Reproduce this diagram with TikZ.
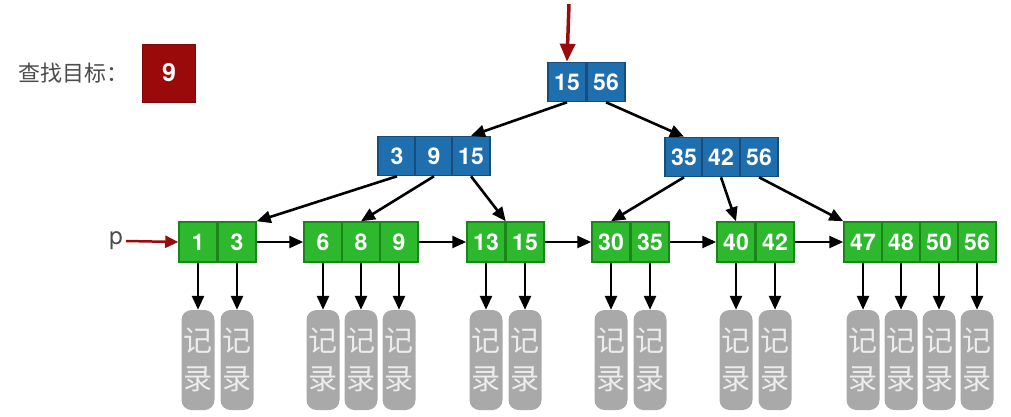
\documentclass[tikz,border=0pt]{standalone}
\usepackage{fontspec}
\setmainfont{TeX Gyre Heros}
\newfontfamily\cjk{Noto Sans CJK SC}
\usetikzlibrary{arrows.meta}
\definecolor{bfill}{HTML}{1F6FAE}\definecolor{bdraw}{HTML}{174C7C}
\definecolor{gfill}{HTML}{2DB82D}\definecolor{gdraw}{HTML}{1A861A}
\definecolor{dred}{HTML}{9B0A0A}\definecolor{rec}{HTML}{A9A9A9}
\begin{document}
\begin{tikzpicture}[x=1pt,y=-1pt,
  cell/.style={draw,line width=1.5pt,minimum width=38pt,minimum height=39pt,inner sep=0pt,text=white,font=\fontsize{23}{23}\selectfont\bfseries},
  bc/.style={cell,fill=bfill,draw=bdraw},
  gc/.style={cell,fill=gfill,draw=gdraw,minimum height=40pt},
  rec/.style={fill=rec,rounded corners=10pt,minimum width=33pt,minimum height=100pt,inner sep=0pt,align=center,text=white!78!rec,font=\cjk\fontsize{29}{38}\selectfont},
  ar/.style={-{Triangle[length=14pt,width=12pt]},line width=2.6pt,black},
  rar/.style={-{Triangle[length=18pt,width=15pt]},line width=3.5pt,dred}]
\useasboundingbox (0,0) rectangle (1011,416);
\node[font=\cjk\fontsize{22}{22}\selectfont,text=black!70,anchor=west,inner sep=0pt] (goal) at (18,73) {查找目标：};
\node[fill=dred,draw=dred!80!black,minimum width=53pt,minimum height=58pt,text=white,font=\fontsize{25}{25}\selectfont\bfseries] (tgt) at (169,73) {9};
% root
\node[bc] (R1) at (567,82) {15};\node[bc] (R2) at (606,82) {56};
\coordinate (rtop) at (569,4);
\draw[rar] (rtop) -- (R1.north);
% internal
\node[bc] (Ia) at (397,156) {3};\node[bc] (Ib) at (434,156) {9};\node[bc] (Ic) at (471,156) {15};
\node[bc] (Ja) at (684,157) {35};\node[bc] (Jb) at (721,157) {42};\node[bc] (Jc) at (759,157) {56};
% leaves
\foreach \n/\x/\t in {L1a/198/1,L1b/237/3,L2a/323/6,L2b/361/8,L2c/399/9,L3a/486/13,L3b/525/15,L4a/611/30,L4b/650/35,L5a/736/40,L5b/775/42,L6a/863/47,L6b/901/48,L6c/939/50,L6d/977/56}{
  \node[gc] (\n) at (\x,242) {\t};
  \node[rec] (r\n) at (\x,360) {记\\录};
  \draw[ar] (\n.south) -- (r\n.north);
}
\node[font=\fontsize{24}{24}\selectfont,text=black!70] (p) at (116,241) {p};
\draw[rar,line width=2.5pt,-{Triangle[length=13pt,width=12pt]}] (p.east) -- (L1a.west);
\draw[ar] (R1.south) -- (Ic.north);
\draw[ar] (R2.south) -- (Ja.north);
\draw[ar] (Ia.south) -- (L1b.north east);
\draw[ar] (Ib.south) -- (L2b.north);
\draw[ar] (Ic.south) -- (L3a.north east);
\draw[ar] (Ja.south) -- (L4a.north);
\draw[ar] (Jb.south) -- (L5a.north);
\draw[ar] (Jc.south) -- (L6a.north west);
\draw[ar] (L1b.east) -- (L2a.west);
\draw[ar] (L2c.east) -- (L3a.west);
\draw[ar] (L3b.east) -- (L4a.west);
\draw[ar] (L4b.east) -- (L5a.west);
\draw[ar] (L5b.east) -- (L6a.west);
\end{tikzpicture}
\end{document}
